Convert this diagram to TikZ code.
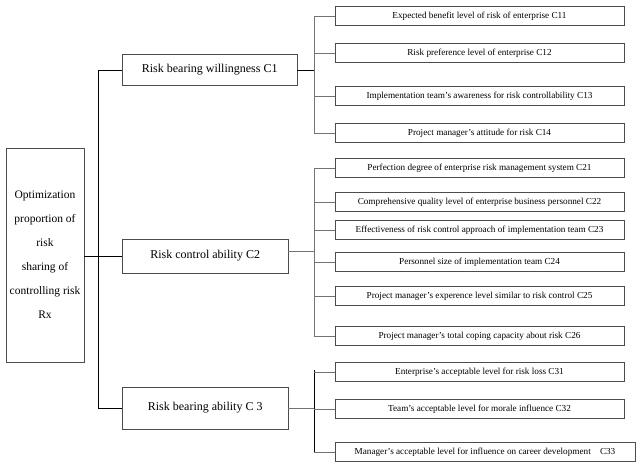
\documentclass[tikz,border=0pt]{standalone}
\usepackage{fontspec}
\setmainfont{Liberation Serif}
\begin{document}
\begin{tikzpicture}[x=1pt, y=-1pt,
  leaf/.style={draw=black!70, minimum width=289pt, minimum height=19pt, inner sep=0pt, font=\fontsize{9.2}{10}\selectfont},
  mid/.style={draw=black!70, minimum height=31pt, inner sep=0pt, anchor=west, font=\fontsize{12}{14}\selectfont},
  trunk/.style={black, thick},
  twig/.style={black!55}]
\useasboundingbox (0,0) rectangle (640,464);
% root
\node[draw=black!70, minimum width=78pt, minimum height=214pt, inner sep=0pt, align=center,
  font=\fontsize{11.5}{24}\selectfont] (root) at (45,255)
  {Optimization\\proportion of\\risk\\sharing of\\controlling risk\\Rx};
% middle level
\node[mid, minimum width=175pt] (c1) at (122,70) {Risk bearing willingness C1};
\node[mid, minimum width=166pt, minimum height=34pt] (c2) at (122,256) {Risk control ability C2};
\node[mid, minimum width=166pt, minimum height=42pt] (c3) at (122,408) {Risk bearing ability C 3};
\coordinate (t1) at (98,70);
\coordinate (t2) at (98,256);
\coordinate (t3) at (98,408);
\draw[trunk] (root.east |- t2) -- (t2);
\draw[trunk] (c1.west) -- (t1) -- (t3) -- (c3.west);
\draw[trunk] (t2) -- (c2.west);
% leaves
\node[leaf] (c11) at (479.5,16) {Expected benefit level of risk of enterprise C11};
\node[leaf] (c12) at (479.5,53) {Risk preference level of enterprise C12};
\node[leaf] (c13) at (479.5,96) {Implementation team's awareness for risk controllability C13};
\node[leaf] (c14) at (479.5,133) {Project manager's attitude for risk C14};
\node[leaf] (c21) at (479.5,168) {Perfection degree of enterprise risk management system C21};
\node[leaf] (c22) at (479.5,202) {Comprehensive quality level of enterprise business personnel C22};
\node[leaf] (c23) at (479.5,230) {Effectiveness of risk control approach of implementation team C23};
\node[leaf] (c24) at (479.5,262) {Personnel size of implementation team C24};
\node[leaf] (c25) at (479.5,296) {Project manager's experence level similar to risk control C25};
\node[leaf] (c26) at (479.5,336) {Project manager's total coping capacity about risk C26};
\node[leaf] (c31) at (479.5,372) {Enterprise's acceptable level for risk loss C31};
\node[leaf] (c32) at (479.5,409) {Team's acceptable level for morale influence C32};
\node[leaf, minimum width=300pt] (c33) at (485,452) {Manager's acceptable level for influence on career development\quad C33};
% branches
\coordinate (b1) at (314,70);
\draw[trunk] (c1.east) -- (b1);
\draw[twig] (c11.west) -| (314,16) -- (314,133) -- (c14.west);
\foreach \n in {c12,c13} \draw[twig] (\n.west) -- (\n.west -| b1);
\coordinate (b2) at (314,251);
\draw[twig] (c2.east |- b2) -- (b2);
\draw[twig] (c21.west) -- (314,168) -- (314,336) -- (c26.west);
\foreach \n in {c22,c23,c24,c25} \draw[twig] (\n.west) -- (\n.west -| b2);
\coordinate (b3) at (314,408);
\draw[twig] (c3.east) -- (b3);
\draw[trunk] (314,370) -- (314,453);
\foreach \n in {c31,c32,c33} \draw[twig] (\n.west) -- (\n.west -| b3);
\end{tikzpicture}
\end{document}
